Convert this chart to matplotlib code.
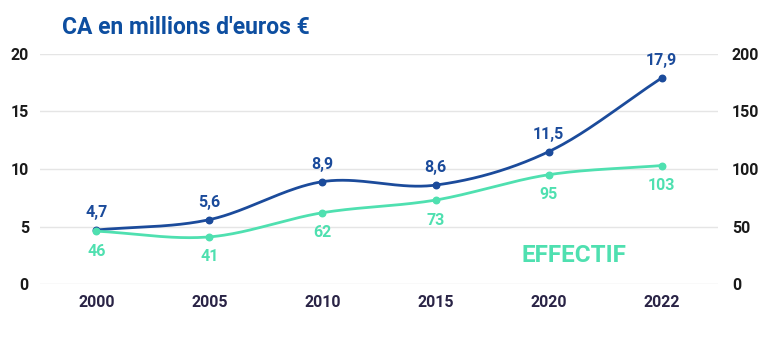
import numpy as np
import matplotlib
matplotlib.use("Agg")
import matplotlib.pyplot as plt

years = ["2000", "2005", "2010", "2015", "2020", "2022"]
ca = [4.7, 5.6, 8.9, 8.6, 11.5, 17.9]
ca_labels = ["4,7", "5,6", "8,9", "8,6", "11,5", "17,9"]
effectif = [46, 41, 62, 73, 95, 103]
left_ticks = [0, 5, 10, 15, 20]
right_ticks = [0, 50, 100, 150, 200]

BLUE = "#1b4b9b"
TEAL = "#4fe0b0"
FONT = "Roboto"


def catmull_rom(xs, ys, n=40):
    xs = np.asarray(xs, float)
    ys = np.asarray(ys, float)
    px = np.concatenate([[2 * xs[0] - xs[1]], xs, [2 * xs[-1] - xs[-2]]])
    py = np.concatenate([[2 * ys[0] - ys[1]], ys, [2 * ys[-1] - ys[-2]]])
    ox, oy = [], []
    for i in range(1, len(px) - 2):
        t = np.linspace(0, 1, n)
        p0, p1, p2, p3 = px[i - 1], px[i], px[i + 1], px[i + 2]
        q0, q1, q2, q3 = py[i - 1], py[i], py[i + 1], py[i + 2]
        def cr(a, b, c, d):
            return 0.5 * ((2 * b) + (-a + c) * t + (2 * a - 5 * b + 4 * c - d) * t ** 2
                          + (-a + 3 * b - 3 * c + d) * t ** 3)
        ox.extend(cr(p0, p1, p2, p3))
        oy.extend(cr(q0, q1, q2, q3))
    return np.array(ox), np.array(oy)


fig = plt.figure(figsize=(7.68, 3.39), dpi=100)
ax = fig.add_axes([0.052, 0.162, 0.883, 0.679])
ax2 = ax.twinx()

x = np.arange(len(years))

ax.set_xlim(-0.5, len(years) - 0.5)
ax.set_ylim(0, 20)
ax2.set_ylim(0, 200)

sx, sy = catmull_rom(x, ca)
ax.plot(sx, sy, color=BLUE, lw=2, zorder=5)
ax.scatter(x, ca, color=BLUE, s=22, zorder=6)

ex, ey = catmull_rom(x, effectif)
ax2.plot(ex, ey, color=TEAL, lw=2, zorder=5)
ax2.scatter(x, effectif, color=TEAL, s=22, zorder=6)

for xi, v, lab in zip(x, ca, ca_labels):
    ax.annotate(lab, (xi, v), xytext=(0, 7), textcoords="offset points",
                ha="center", va="bottom", color=BLUE, fontsize=11.5,
                fontweight="bold", family=FONT, zorder=7)
for xi, v in zip(x, effectif):
    ax2.annotate(str(v), (xi, v), xytext=(0, -9), textcoords="offset points",
                 ha="center", va="top", color=TEAL, fontsize=11.5,
                 fontweight="bold", family=FONT, zorder=7)

ax.set_yticks(left_ticks)
ax2.set_yticks(right_ticks)
ax.set_xticks(x)
ax.set_xticklabels(years)
ax.grid(axis="y", color="#e5e5e5", lw=1)
ax.set_axisbelow(True)

for a in (ax, ax2):
    for s in a.spines.values():
        s.set_visible(False)
    a.tick_params(length=0)

ax.tick_params(axis="y", pad=8, labelsize=11.5, labelcolor="#1a1a1a")
ax2.tick_params(axis="y", pad=10, labelsize=11.5, labelcolor="#1a1a1a")
ax.tick_params(axis="x", pad=8, labelsize=11.5, labelcolor="#2a2446")
for lab in ax.get_yticklabels() + ax2.get_yticklabels() + ax.get_xticklabels():
    lab.set_fontweight("bold")
    lab.set_family(FONT)

fig.text(62 / 768, 1 - 28 / 339, "CA en millions d'euros €", color="#0d4ea0",
         fontsize=16.5, fontweight="bold", family=FONT, ha="left", va="center")
fig.text(574 / 768, 1 - 255 / 339, "EFFECTIF", color=TEAL,
         fontsize=17.5, fontweight="bold", family=FONT, ha="center", va="center")

fig.savefig("out.png", dpi=100)
